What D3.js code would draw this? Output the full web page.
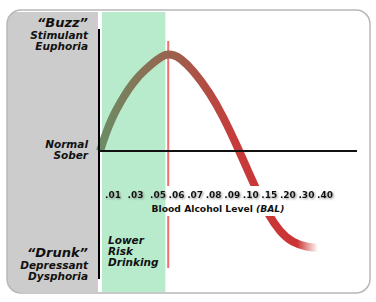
<!DOCTYPE html>
<html>
<head>
<meta charset="utf-8">
<title>BAL effect curve</title>
<script src="https://cdn.jsdelivr.net/npm/d3@7"></script>
<style>
  body { margin: 0; background: #fff; }
  text { font-family: "DejaVu Sans", Verdana, sans-serif; font-weight: bold; fill: #111; }
</style>
</head>
<body>
<div id="chart"></div>
<script>
// BAL tick labels along the x axis
const balTicks = [0.01, 0.03, 0.05, 0.06, 0.07, 0.08, 0.09, 0.10, 0.15, 0.20, 0.30, 0.40];
const balLabels = [".01", ".03", ".05", ".06", ".07", ".08", ".09", ".10", ".15", ".20", ".30", ".40"];

// effect curve: BAL -> effect (+1 buzz, -1 drunk)
const curveBal = [0, 0.0046, 0.0092, 0.0162, 0.0233, 0.0304, 0.0384, 0.0464, 0.0522, 0.0554, 0.0586, 0.0619,
                  0.0689, 0.078, 0.085, 0.0931, 0.0985, 0.1194, 0.1463, 0.1786, 0.2274, 0.3027, 0.3622];
const curveEffect = [0, 0.18, 0.33, 0.48, 0.61, 0.72, 0.81, 0.89, 0.95, 0.97, 0.96, 0.93,
                     0.81, 0.58, 0.35, 0.03, -0.20, -0.42, -0.63, -0.81, -0.92, -0.96, -0.97];

const lowRiskLimit = 0.054;  // end of the green band
const legalLimit = 0.0555;   // red line

const topLabels = ["\u201cBuzz\u201d", "Stimulant", "Euphoria"];
const midLabels = ["Normal", "Sober"];
const bottomLabels = ["\u201cDrunk\u201d", "Depressant", "Dysphoria"];
const bandLabels = ["Lower", "Risk", "Drinking"];

const width = 376, height = 302;
const axisX = 100;

const svg = d3.select("#chart").append("svg")
    .attr("width", width)
    .attr("height", height);

const defs = svg.append("defs");

// tick positions: wider spacing inside the green band
const idx = d3.scaleLinear().domain([0, 2, 11]).range([113, 158, 325]);
const x = d3.scaleLinear()
    .domain([0].concat(balTicks))
    .range([axisX].concat(balTicks.map((t, i) => idx(i))));
const y = d3.scaleLinear().domain([-1, 1]).range([251, 51]);

// frame
defs.append("clipPath").attr("id", "frameClip")
    .append("rect")
    .attr("x", 7).attr("y", 10).attr("width", 363).attr("height", 283).attr("rx", 14);

svg.append("rect")
    .attr("x", 7).attr("y", 10).attr("width", 363).attr("height", 283).attr("rx", 14)
    .attr("fill", "#fff");

const inner = svg.append("g").attr("clip-path", "url(#frameClip)");

// grey label panel
inner.append("rect")
    .attr("x", 7).attr("y", 12).attr("width", axisX - 2 - 7).attr("height", 280)
    .attr("fill", "#cccccc");

// green lower-risk band
inner.append("rect")
    .attr("x", axisX + 2).attr("y", 12)
    .attr("width", x(lowRiskLimit) - axisX - 2).attr("height", 280)
    .attr("fill", "#b8ebcc");

svg.append("rect")
    .attr("x", 7).attr("y", 10).attr("width", 363).attr("height", 283).attr("rx", 14)
    .attr("fill", "none")
    .attr("stroke", "#b8b8b8")
    .attr("stroke-width", 1.5);

// red limit line
svg.append("line")
    .attr("x1", x(legalLimit)).attr("x2", x(legalLimit))
    .attr("y1", 41).attr("y2", 268)
    .attr("stroke", "#f07070")
    .attr("stroke-width", 2);

// curve with colour gradient
const xEnd = x(d3.max(curveBal));
const grad = defs.append("linearGradient")
    .attr("id", "curveGrad")
    .attr("gradientUnits", "userSpaceOnUse")
    .attr("x1", axisX).attr("x2", xEnd).attr("y1", 0).attr("y2", 0);
const span = xEnd - axisX;
[
  [0, "#6b8c64", 1],
  [(x(0.055) - axisX) / span, "#98644f", 1],
  [(x(0.093) - axisX) / span, "#c83a3a", 1],
  [(x(0.25) - axisX) / span, "#cc3333", 1],
  [1, "#cc3333", 0]
].forEach(s => grad.append("stop")
    .attr("offset", s[0]).attr("stop-color", s[1]).attr("stop-opacity", s[2]));

const pts = curveBal.map((b, i) => [x(b), y(curveEffect[i])]);
svg.append("path")
    .attr("d", d3.line().curve(d3.curveBasis)(pts))
    .attr("fill", "none")
    .attr("stroke", "url(#curveGrad)")
    .attr("stroke-width", 8);

// axes
svg.append("line")
    .attr("x1", axisX - 1).attr("x2", axisX - 1)
    .attr("y1", 29).attr("y2", 279)
    .attr("stroke", "#000").attr("stroke-width", 2);
svg.append("line")
    .attr("x1", axisX - 1).attr("x2", 357)
    .attr("y1", y(0)).attr("y2", y(0))
    .attr("stroke", "#111").attr("stroke-width", 2);

// white band behind the tick labels
svg.append("rect")
    .attr("x", x(lowRiskLimit) + 1).attr("y", 186)
    .attr("width", 180).attr("height", 30)
    .attr("fill", "#fff");

const shadow = defs.append("filter").attr("id", "shadow")
    .attr("x", "-20%").attr("y", "-20%").attr("width", "150%").attr("height", "150%");
shadow.append("feDropShadow")
    .attr("dx", 1).attr("dy", 1).attr("stdDeviation", 0.9)
    .attr("flood-color", "#777").attr("flood-opacity", 0.8);

svg.append("g").selectAll("text")
    .data(balTicks)
    .join("text")
    .attr("x", d => x(d))
    .attr("y", 198)
    .attr("text-anchor", "middle")
    .attr("font-size", 9)
    .attr("filter", "url(#shadow)")
    .text((d, i) => balLabels[i]);

const title = svg.append("text")
    .attr("x", 218).attr("y", 212)
    .attr("text-anchor", "middle")
    .attr("font-size", 9.2);
title.append("tspan").text("Blood Alcohol Level ");
title.append("tspan").attr("font-style", "italic").text("(BAL)");

// left side labels
function stack(lines, x0, ys, anchor, sizes) {
  svg.append("g").selectAll("text")
    .data(lines)
    .join("text")
    .attr("x", x0)
    .attr("y", (d, i) => ys[i])
    .attr("text-anchor", anchor)
    .attr("font-style", "italic")
    .attr("font-size", (d, i) => sizes[i])
    .text(d => d);
}
stack(topLabels, 88, [27, 39, 50], "end", [13, 10.5, 10.5]);
stack(midLabels, 88, [148, 159], "end", [10.5, 10.5]);
stack(bottomLabels, 88, [257, 269, 280], "end", [13, 10.5, 10.5]);
stack(bandLabels, 108, [244, 255, 266], "start", [10.5, 10.5, 10.5]);
</script>
</body>
</html>
